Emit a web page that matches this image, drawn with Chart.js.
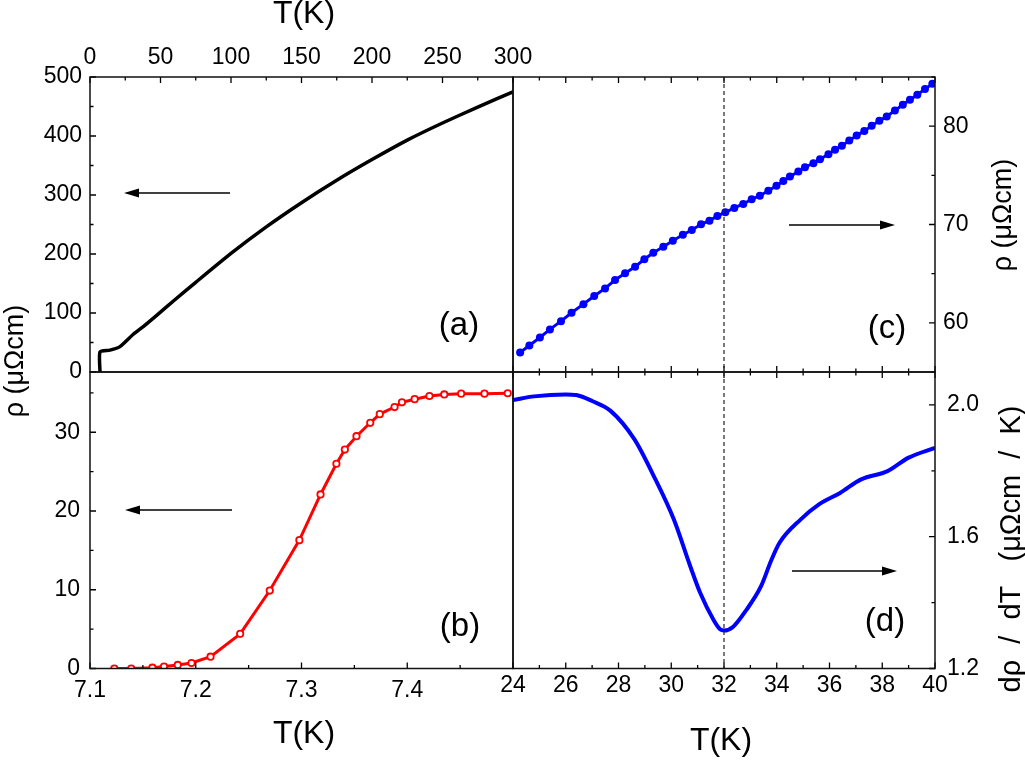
<!DOCTYPE html>
<html>
<head>
<meta charset="utf-8">
<script src="https://cdn.jsdelivr.net/npm/chart.js@4.4.0/dist/chart.umd.min.js"></script>
<style>
  body { margin: 0; background: #fff; }
  #wrap { position: relative; width: 1025px; height: 760px; }
  #wrap canvas { position: absolute; left: 0; top: 0; }
</style>
</head>
<body>
<div id="wrap">
  <canvas id="chartA" width="1025" height="760"></canvas>
  <canvas id="chartB" width="1025" height="760"></canvas>
  <canvas id="chartC" width="1025" height="760"></canvas>
  <canvas id="chartD" width="1025" height="760"></canvas>
</div>
<script>
// (a) resistivity over the full range
const aTemp = [7.1, 7.1, 14.2, 21.3, 30.7, 37.8, 47.3, 60, 75, 100, 125, 150, 175, 200, 225, 250, 275, 300];
const aRho = [0, 34, 37, 43, 64, 77, 96, 122, 152, 201, 246, 287, 325, 360, 393, 422, 449, 475];

// (b) superconducting transition
const bTemp = [7.123, 7.139, 7.159, 7.170, 7.183, 7.196, 7.214, 7.242, 7.270, 7.298, 7.318, 7.333, 7.341, 7.352, 7.365, 7.374, 7.388, 7.395, 7.407, 7.421, 7.435, 7.451, 7.473, 7.495];
const bRho = [0, 0, 0.1, 0.25, 0.45, 0.7, 1.5, 4.4, 9.9, 16.3, 22.1, 26.0, 27.8, 29.5, 31.2, 32.3, 33.2, 33.8, 34.2, 34.6, 34.8, 34.9, 34.9, 34.95];

// (c) resistivity 24-40 K
const cTemp = [24.27, 24.62, 25.02, 25.40, 25.82, 26.22, 26.67, 27.08, 27.49, 27.87, 28.25, 28.63, 28.98, 29.32, 29.70, 30.06, 30.44, 30.78, 31.13, 31.45, 31.75, 32.05, 32.39, 32.73, 33.05, 33.36, 33.68, 33.99, 34.25, 34.50, 34.82, 35.07, 35.39, 35.64, 35.96, 36.21, 36.47, 36.75, 37.03, 37.32, 37.60, 37.89, 38.17, 38.48, 38.78, 39.05, 39.33, 39.62, 39.90];
const cRho = [56.99, 57.70, 58.51, 59.33, 60.17, 61.02, 61.90, 62.72, 63.50, 64.35, 65.03, 65.70, 66.46, 67.13, 67.74, 68.35, 68.96, 69.44, 70.02, 70.39, 70.87, 71.24, 71.68, 72.09, 72.57, 72.93, 73.44, 73.95, 74.43, 74.87, 75.38, 75.82, 76.23, 76.64, 77.15, 77.59, 78.02, 78.53, 79.04, 79.52, 80.03, 80.54, 80.98, 81.59, 82.17, 82.68, 83.19, 83.77, 84.31];

// (d) derivative
const dTemp = [24.0, 24.8, 26.0, 26.4, 27.0, 27.7, 28.6, 29.3, 30.1, 30.7, 31.1, 31.6, 31.85, 32.0, 32.35, 32.85, 33.4, 33.8, 34.1, 34.9, 35.6, 36.4, 37.2, 38.2, 39.0, 40.0];
const dVal = [2.015, 2.026, 2.032, 2.030, 2.012, 1.982, 1.896, 1.790, 1.652, 1.515, 1.429, 1.348, 1.319, 1.315, 1.327, 1.378, 1.449, 1.530, 1.581, 1.652, 1.698, 1.733, 1.774, 1.799, 1.840, 1.870];

const kinkT = 32; // dashed line

const FONT = "'Liberation Sans', Arial, sans-serif";
Chart.defaults.font.family = FONT;
Chart.defaults.font.size = 23;
Chart.defaults.color = "#000";

const W = 1025, H = 760;

function pts(xs, ys) {
  return xs.map((x, i) => ({ x: x, y: ys[i] }));
}

function tickValues(min, max, step) {
  const out = [];
  const k0 = Math.ceil(min / step - 1e-6), k1 = Math.floor(max / step + 1e-6);
  for (let k = k0; k <= k1; k++) out.push(k * step);
  return out;
}

function fixSize(size) {
  return function (scale) {
    if (scale.isHorizontal()) scale.height = size;
    else scale.width = size;
    scale.paddingLeft = scale.paddingRight = scale.paddingTop = scale.paddingBottom = 0;
  };
}

function fixTicks(step) {
  return function (scale) {
    scale.ticks = tickValues(scale.min, scale.max, step).map(v => ({ value: v }));
  };
}

function drawText(ctx, t) {
  ctx.save();
  ctx.translate(t.x, t.y);
  if (t.rot) ctx.rotate(t.rot);
  ctx.font = t.size + "px " + FONT;
  ctx.textAlign = "center";
  ctx.textBaseline = "middle";
  ctx.fillStyle = "#000";
  ctx.fillText(t.text, 0, 0);
  ctx.restore();
}

function drawArrow(ctx, a) {
  ctx.save();
  ctx.strokeStyle = "#000";
  ctx.fillStyle = "#000";
  ctx.lineWidth = 1.3;
  const dir = a.to > a.from ? 1 : -1;
  const head = 15;
  ctx.beginPath();
  ctx.moveTo(a.from, a.y);
  ctx.lineTo(a.to - dir * head, a.y);
  ctx.stroke();
  ctx.beginPath();
  ctx.moveTo(a.to, a.y);
  ctx.lineTo(a.to - dir * head, a.y - 4.5);
  ctx.lineTo(a.to - dir * head, a.y + 4.5);
  ctx.closePath();
  ctx.fill();
  ctx.restore();
}

const decor = {
  id: "panelDecor",
  afterDraw(chart, args, o) {
    const ctx = chart.ctx;
    const ca = chart.chartArea;
    const xs = chart.scales.x, ys = chart.scales.y;

    // inward tick marks
    ctx.save();
    ctx.strokeStyle = "#000";
    ctx.lineWidth = 1.3;
    ctx.beginPath();
    tickValues(xs.min, xs.max, o.xMinor).forEach(v => {
      const isMajor = Math.abs(v / o.xMajor - Math.round(v / o.xMajor)) < 1e-6;
      const len = isMajor ? 6 : 3.5;
      const px = xs.getPixelForValue(v);
      o.xEdges.forEach(e => {
        const y0 = e === "top" ? ca.top : ca.bottom;
        const d = e === "top" ? 1 : -1;
        ctx.moveTo(px, y0);
        ctx.lineTo(px, y0 + d * len);
      });
    });
    tickValues(ys.min, ys.max, o.yMinor).forEach(v => {
      const isMajor = Math.abs(v / o.yMajor - Math.round(v / o.yMajor)) < 1e-6;
      const len = isMajor ? 6 : 3.5;
      const py = ys.getPixelForValue(v);
      o.yEdges.forEach(e => {
        const x0 = e === "left" ? ca.left : ca.right;
        const d = e === "left" ? 1 : -1;
        ctx.moveTo(x0, py);
        ctx.lineTo(x0 + d * len, py);
      });
    });
    ctx.stroke();
    ctx.restore();

    // frame
    ctx.save();
    ctx.strokeStyle = "#111";
    ctx.lineWidth = 1.5;
    ctx.strokeRect(ca.left, ca.top, ca.right - ca.left, ca.bottom - ca.top);
    ctx.restore();

    if (o.dashAt !== undefined) {
      const px = xs.getPixelForValue(o.dashAt);
      ctx.save();
      ctx.strokeStyle = "#222";
      ctx.lineWidth = 1.2;
      ctx.setLineDash([4, 3]);
      ctx.beginPath();
      ctx.moveTo(px, ca.top);
      ctx.lineTo(px, ca.bottom);
      ctx.stroke();
      ctx.restore();
    }

    if (o.arrow) drawArrow(ctx, o.arrow);
    (o.texts || []).forEach(t => drawText(ctx, t));
  }
};

function makePanel(id, box, xo, yo, datasets, deco) {
  const xSize = xo.pos === "top" ? box.top : H - box.bottom;
  const ySize = yo.pos === "left" ? box.left : W - box.right;
  return new Chart(document.getElementById(id), {
    type: "line",
    data: { datasets: datasets },
    options: {
      responsive: false,
      animation: false,
      devicePixelRatio: 1,
      events: [],
      layout: {
        padding: {
          left: yo.pos === "left" ? 0 : box.left,
          right: yo.pos === "right" ? 0 : W - box.right,
          top: xo.pos === "top" ? 0 : box.top,
          bottom: xo.pos === "bottom" ? 0 : H - box.bottom
        }
      },
      scales: {
        x: {
          type: "linear",
          position: xo.pos,
          min: xo.min,
          max: xo.max,
          grid: { display: false, drawTicks: false },
          border: { display: false },
          ticks: {
            display: xo.labels,
            padding: xo.pad,
            autoSkip: false,
            maxRotation: 0,
            callback: xo.fmt
          },
          afterBuildTicks: fixTicks(xo.step),
          afterFit: fixSize(xSize)
        },
        y: {
          type: "linear",
          position: yo.pos,
          min: yo.min,
          max: yo.max,
          grid: { display: false, drawTicks: false },
          border: { display: false },
          ticks: {
            display: true,
            padding: yo.pad,
            autoSkip: false,
            callback: yo.fmt
          },
          afterBuildTicks: fixTicks(yo.step),
          afterFit: fixSize(ySize)
        }
      },
      plugins: {
        legend: { display: false },
        tooltip: { enabled: false },
        panelDecor: deco
      }
    },
    plugins: [decor]
  });
}

// (a)
makePanel("chartA", { left: 90, top: 77, right: 513, bottom: 372 },
  { pos: "top", min: 0, max: 300, step: 50, pad: 6, labels: true, fmt: v => String(Math.round(v)) },
  { pos: "left", min: 0, max: 500, step: 100, pad: 8, fmt: v => String(Math.round(v)) },
  [{
    data: pts(aTemp, aRho),
    borderColor: "#000",
    borderWidth: 3.5,
    pointRadius: 0,
    tension: 0.2
  }],
  {
    xMajor: 50, xMinor: 25, xEdges: ["top"],
    yMajor: 100, yMinor: 50, yEdges: ["left"],
    arrow: { from: 230, to: 124, y: 193 },
    texts: [
      { text: "(a)", x: 459, y: 326, size: 33 },
      { text: "T(K)", x: 304, y: 14, size: 32 },
      { text: "ρ (μΩcm)", x: 16, y: 361, size: 27, rot: -Math.PI / 2 }
    ]
  });

// (b)
makePanel("chartB", { left: 90, top: 372, right: 513, bottom: 668.5 },
  { pos: "bottom", min: 7.1, max: 7.5, step: 0.1, pad: 8, labels: true,
    fmt: v => (v > 7.45 ? "" : v.toFixed(1)) },
  { pos: "left", min: 0, max: 37.65, step: 10, pad: 10, fmt: v => String(Math.round(v)) },
  [{
    data: pts(bTemp, bRho),
    borderColor: "#ff0000",
    borderWidth: 3,
    pointRadius: 3.2,
    pointBorderWidth: 1.8,
    pointBackgroundColor: "#fff",
    pointBorderColor: "#ff0000",
    tension: 0
  }],
  {
    xMajor: 0.1, xMinor: 0.05, xEdges: ["bottom"],
    yMajor: 10, yMinor: 5, yEdges: ["left"],
    arrow: { from: 232, to: 125, y: 510 },
    texts: [
      { text: "(b)", x: 460, y: 627, size: 33 },
      { text: "T(K)", x: 304, y: 734, size: 32 }
    ]
  });

// (c)
makePanel("chartC", { left: 513, top: 77, right: 935, bottom: 372 },
  { pos: "bottom", min: 24, max: 40, step: 2, pad: 4, labels: false },
  { pos: "right", min: 55, max: 85, step: 10, pad: 8, fmt: v => String(Math.round(v)) },
  [{
    data: pts(cTemp, cRho),
    borderColor: "#0000ff",
    borderWidth: 3,
    pointRadius: 4,
    pointBorderWidth: 0,
    pointBackgroundColor: "#0000ff",
    tension: 0
  }],
  {
    xMajor: 2, xMinor: 1, xEdges: ["top", "bottom"],
    yMajor: 10, yMinor: 5, yEdges: ["right"],
    dashAt: kinkT,
    arrow: { from: 789, to: 895, y: 225 },
    texts: [
      { text: "(c)", x: 887, y: 329, size: 33 },
      { text: "ρ (μΩcm)", x: 1004, y: 215, size: 27, rot: -Math.PI / 2 }
    ]
  });

// (d)
makePanel("chartD", { left: 513, top: 372, right: 935, bottom: 668.5 },
  { pos: "bottom", min: 24, max: 40, step: 2, pad: 3, labels: true, fmt: v => String(Math.round(v)) },
  { pos: "right", min: 1.2, max: 2.1, step: 0.4, pad: 12, fmt: v => v.toFixed(1) },
  [{
    data: pts(dTemp, dVal),
    borderColor: "#0000ff",
    borderWidth: 4,
    pointRadius: 0,
    cubicInterpolationMode: "monotone"
  }],
  {
    xMajor: 2, xMinor: 1, xEdges: ["top", "bottom"],
    yMajor: 0.4, yMinor: 0.2, yEdges: ["right"],
    dashAt: kinkT,
    arrow: { from: 792, to: 897, y: 571 },
    texts: [
      { text: "(d)", x: 885, y: 622, size: 33 },
      { text: "T(K)", x: 721, y: 741, size: 32 },
      { text: "dρ  /  dT   (μΩcm  /  K)", x: 1012, y: 549, size: 29, rot: -Math.PI / 2 }
    ]
  });
</script>
</body>
</html>
